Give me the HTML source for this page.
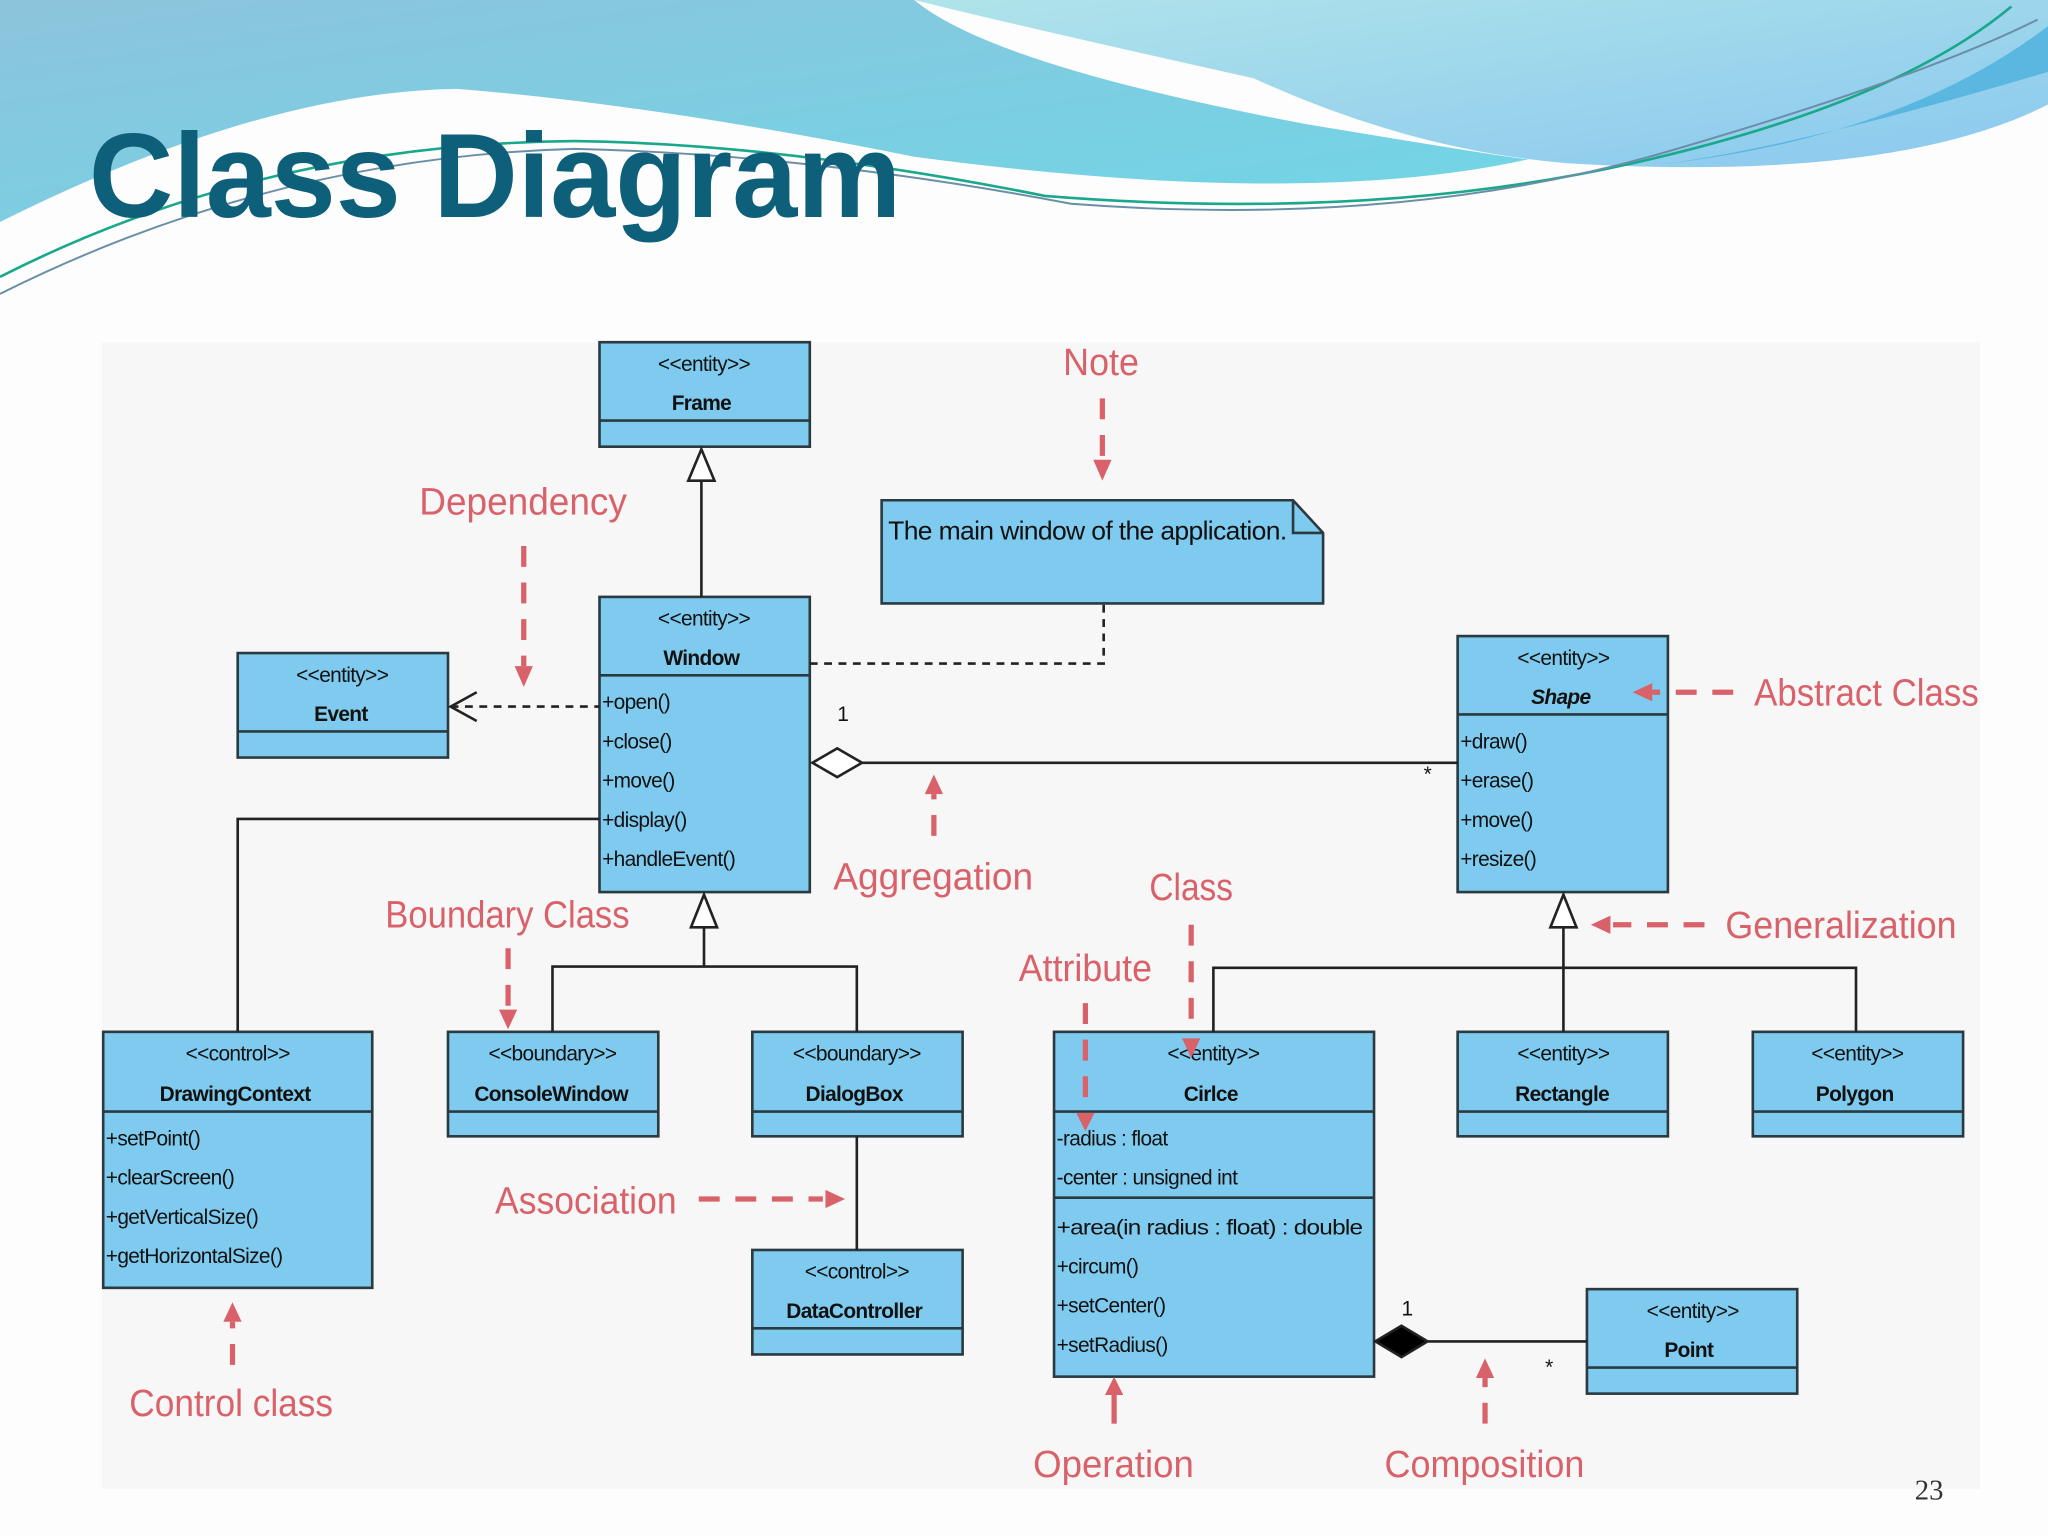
<!DOCTYPE html>
<html><head><style>html,body{margin:0;padding:0;background:#fff}svg{display:block}</style></head>
<body>
<svg width="2048" height="1536" viewBox="0 0 1568 1176" xmlns="http://www.w3.org/2000/svg" font-family="Liberation Sans, sans-serif">
<defs>
<linearGradient id="g1" x1="0" y1="0" x2="1" y2="1"><stop offset="0" stop-color="#8cc4dc"/><stop offset="1" stop-color="#6fd6e6"/></linearGradient>
<linearGradient id="g2" x1="0" y1="0" x2="1" y2="1"><stop offset="0" stop-color="#b0e4ea"/><stop offset="1" stop-color="#8ac8ee"/></linearGradient>
</defs>
<rect width="1568" height="1176" fill="#fdfdfd"/>
<path d="M0,0 H700 Q760,50 1000,95 Q1150,120 1170,122 Q1000,160 700,120 Q500,80 350,68 Q200,70 0,170 Z" fill="url(#g1)"/>
<path d="M700,0 H1568 V80 Q1450,140 1200,125 Q1080,115 960,60 Q780,20 700,0 Z" fill="url(#g2)"/>
<path d="M1568,20 Q1450,110 1250,128 Q1350,120 1568,55 Z" fill="#4ab0dc" opacity="0.8"/>
<path d="M0,212 Q200,110 440,108 Q600,110 800,150 Q1050,170 1250,125 Q1450,80 1540,5" fill="none" stroke="#1aa88a" stroke-width="2"/>
<path d="M0,225 Q210,120 440,114 Q620,118 820,156 Q1070,175 1270,118 Q1470,60 1560,15" fill="none" stroke="#6a8ea8" stroke-width="1.5"/>
<text x="68" y="166" font-size="92" font-weight="bold" fill="#0e5f7a" textLength="622" lengthAdjust="spacingAndGlyphs">Class Diagram</text>
<rect x="78" y="262" width="1438" height="878" fill="#f7f7f7"/>
<g stroke="#2a3a40" stroke-width="2" fill="#7ecbef">
<rect x="459" y="262" width="161" height="80"/><line x1="459" y1="322" x2="620" y2="322"/>
<rect x="459" y="457" width="161" height="226"/><line x1="459" y1="517" x2="620" y2="517"/>
<rect x="182" y="500" width="161" height="80"/><line x1="182" y1="560" x2="343" y2="560"/>
<rect x="1116" y="487" width="161" height="196"/><line x1="1116" y1="547" x2="1277" y2="547"/>
<rect x="79" y="790" width="206" height="196"/><line x1="79" y1="851" x2="285" y2="851"/>
<rect x="343" y="790" width="161" height="80"/><line x1="343" y1="851" x2="504" y2="851"/>
<rect x="576" y="790" width="161" height="80"/><line x1="576" y1="851" x2="737" y2="851"/>
<rect x="576" y="957" width="161" height="80"/><line x1="576" y1="1017" x2="737" y2="1017"/>
<rect x="807" y="790" width="245" height="264"/><line x1="807" y1="851" x2="1052" y2="851"/><line x1="807" y1="917" x2="1052" y2="917"/>
<rect x="1116" y="790" width="161" height="80"/><line x1="1116" y1="851" x2="1277" y2="851"/>
<rect x="1342" y="790" width="161" height="80"/><line x1="1342" y1="851" x2="1503" y2="851"/>
<rect x="1215" y="987" width="161" height="80"/><line x1="1215" y1="1047" x2="1376" y2="1047"/>
<path d="M675,383 H990 L1013,408 V462 H675 Z"/><path d="M990,383 V408 H1013" fill="none"/>
</g>
<g stroke="#222" stroke-width="2" fill="none">
<line x1="537" y1="368" x2="537" y2="457"/>
<path d="M527,368 L537,344 L547,368 Z" fill="#fff"/>
<path d="M620,508 H845 V462" stroke-dasharray="6,5"/>
<line x1="345" y1="541" x2="459" y2="541" stroke-dasharray="6,5"/>
<path d="M365,530 L345,541 L365,552"/>
<path d="M622,584 L641,573 L660,584 L641,595 Z" fill="#fff"/>
<line x1="660" y1="584" x2="1116" y2="584"/>
<path d="M182,790 V627 H459"/>
<path d="M529,710 L539,685 L549,710 Z" fill="#fff"/>
<path d="M539,710 V740 M423,790 V740 H656 V790 M656,870 V957"/>
<path d="M1187,710 L1197,685 L1207,710 Z" fill="#fff"/>
<path d="M1197,710 V790 M929,790 V741 H1421 V790"/>
<path d="M1053,1027 L1073,1015 L1093,1027 L1073,1039 Z" fill="#000"/>
<line x1="1093" y1="1027" x2="1215" y2="1027"/>
</g>
<g font-size="16" fill="#111" letter-spacing="-0.5">
<g text-anchor="middle">
<text x="539" y="284">&lt;&lt;entity&gt;&gt;</text><text x="537" y="314" font-weight="bold">Frame</text>
<text x="539" y="479">&lt;&lt;entity&gt;&gt;</text><text x="537" y="509" font-weight="bold">Window</text>
<text x="262" y="522">&lt;&lt;entity&gt;&gt;</text><text x="261" y="552" font-weight="bold">Event</text>
<text x="1197" y="509">&lt;&lt;entity&gt;&gt;</text><text x="1195" y="539" font-weight="bold" font-style="italic">Shape</text>
<text x="182" y="812">&lt;&lt;control&gt;&gt;</text><text x="180" y="843" font-weight="bold">DrawingContext</text>
<text x="423" y="812">&lt;&lt;boundary&gt;&gt;</text><text x="422" y="843" font-weight="bold">ConsoleWindow</text>
<text x="656" y="812">&lt;&lt;boundary&gt;&gt;</text><text x="654" y="843" font-weight="bold">DialogBox</text>
<text x="656" y="979">&lt;&lt;control&gt;&gt;</text><text x="654" y="1009" font-weight="bold">DataController</text>
<text x="929" y="812">&lt;&lt;entity&gt;&gt;</text><text x="927" y="843" font-weight="bold">Cirlce</text>
<text x="1197" y="812">&lt;&lt;entity&gt;&gt;</text><text x="1196" y="843" font-weight="bold">Rectangle</text>
<text x="1422" y="812">&lt;&lt;entity&gt;&gt;</text><text x="1420" y="843" font-weight="bold">Polygon</text>
<text x="1296" y="1009">&lt;&lt;entity&gt;&gt;</text><text x="1293" y="1039" font-weight="bold">Point</text>
</g>
<text x="461" y="543">+open()</text><text x="461" y="573">+close()</text><text x="461" y="603">+move()</text><text x="461" y="633">+display()</text><text x="461" y="663">+handleEvent()</text>
<text x="1118" y="573">+draw()</text><text x="1118" y="603">+erase()</text><text x="1118" y="633">+move()</text><text x="1118" y="663">+resize()</text>
<text x="81" y="877">+setPoint()</text><text x="81" y="907">+clearScreen()</text><text x="81" y="937">+getVerticalSize()</text><text x="81" y="967">+getHorizontalSize()</text>
<text x="809" y="877">-radius : float</text><text x="809" y="907">-center : unsigned int</text>
<text x="809" y="945" textLength="234" lengthAdjust="spacingAndGlyphs">+area(in radius : float) : double</text><text x="809" y="975">+circum()</text><text x="809" y="1005">+setCenter()</text><text x="809" y="1035">+setRadius()</text>
<text x="680" y="413" font-size="20" textLength="305" lengthAdjust="spacingAndGlyphs">The main window of the application.</text>
<text x="641" y="552">1</text><text x="1090" y="598">*</text><text x="1073" y="1007">1</text><text x="1183" y="1052">*</text>
</g>
<g fill="#d9626a" font-size="29" lengthAdjust="spacingAndGlyphs">
<text x="814" y="287" textLength="58" lengthAdjust="spacingAndGlyphs">Note</text>
<text x="321" y="394" textLength="159" lengthAdjust="spacingAndGlyphs">Dependency</text>
<text x="1343" y="540" textLength="172" lengthAdjust="spacingAndGlyphs">Abstract Class</text>
<text x="638" y="681" textLength="153" lengthAdjust="spacingAndGlyphs">Aggregation</text>
<text x="295" y="710" textLength="187" lengthAdjust="spacingAndGlyphs">Boundary Class</text>
<text x="880" y="689" textLength="64" lengthAdjust="spacingAndGlyphs">Class</text>
<text x="1321" y="718" textLength="177" lengthAdjust="spacingAndGlyphs">Generalization</text>
<text x="780" y="751" textLength="102" lengthAdjust="spacingAndGlyphs">Attribute</text>
<text x="379" y="929" textLength="139" lengthAdjust="spacingAndGlyphs">Association</text>
<text x="99" y="1084" textLength="156" lengthAdjust="spacingAndGlyphs">Control class</text>
<text x="791" y="1131" textLength="123" lengthAdjust="spacingAndGlyphs">Operation</text>
<text x="1060" y="1131" textLength="153" lengthAdjust="spacingAndGlyphs">Composition</text>
</g>
<g stroke="#d9626a" stroke-width="4" fill="none" stroke-dasharray="16,12">
<line x1="844" y1="305" x2="844" y2="350"/>
<line x1="401" y1="418" x2="401" y2="510"/>
<line x1="1327" y1="530" x2="1265" y2="530"/>
<line x1="715" y1="640" x2="715" y2="608"/>
<line x1="389" y1="726" x2="389" y2="775"/>
<line x1="912" y1="708" x2="912" y2="790"/>
<line x1="1305" y1="708" x2="1235" y2="708"/>
<line x1="831" y1="768" x2="831" y2="852"/>
<line x1="535" y1="918" x2="630" y2="918"/>
<line x1="178" y1="1045" x2="178" y2="1012"/>
<line x1="853" y1="1090" x2="853" y2="1068" stroke-dasharray="none"/>
<line x1="1137" y1="1090" x2="1137" y2="1055"/>
</g>
<g fill="#d9626a">
<path d="M837,352 L851,352 L844,368 Z"/>
<path d="M394,510 L408,510 L401,526 Z"/>
<path d="M1250,530 L1265,523 L1265,537 Z"/>
<path d="M708,608 L722,608 L715,593 Z"/>
<path d="M382,773 L396,773 L389,788 Z"/>
<path d="M905,795 L919,795 L912,810 Z"/>
<path d="M1218,708 L1233,701 L1233,715 Z"/>
<path d="M824,852 L838,852 L831,866 Z"/>
<path d="M632,911 L647,918 L632,925 Z"/>
<path d="M171,1012 L185,1012 L178,997 Z"/>
<path d="M846,1068 L860,1068 L853,1054 Z"/>
<path d="M1130,1055 L1144,1055 L1137,1040 Z"/>
</g>
<text x="1466" y="1148" font-size="22" fill="#333" font-family="Liberation Serif, serif">23</text>
</svg>
</body></html>
